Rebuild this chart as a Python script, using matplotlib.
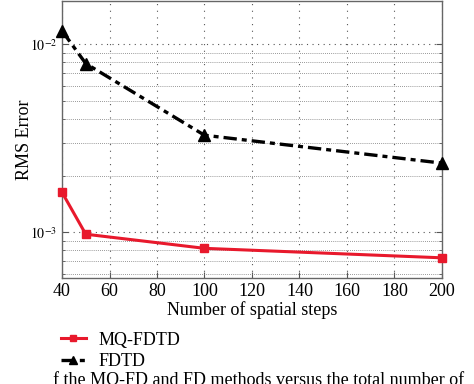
import matplotlib
matplotlib.use("Agg")
import matplotlib.pyplot as plt
from matplotlib.ticker import LogLocator, NullFormatter, FixedLocator

# data
steps = [40, 50, 100, 200]
mq_fdtd = [1.63e-3, 9.75e-4, 8.2e-4, 7.3e-4]
fdtd = [1.18e-2, 7.9e-3, 3.28e-3, 2.33e-3]
x_ticks = [40, 60, 80, 100, 120, 140, 160, 180, 200]

plt.rcParams['font.family'] = ['Liberation Serif', 'DejaVu Serif']
plt.rcParams['mathtext.fontset'] = 'stix'

fig = plt.figure(figsize=(4.74, 3.84), dpi=100)
ax = fig.add_axes([62 / 474, 1 - 278 / 384, 380 / 474, 277 / 384])

ax.plot(steps, mq_fdtd, color='#e8192c', lw=2.2, marker='s', ms=6,
        label='MQ-FDTD', zorder=3, clip_on=False)
ax.plot(steps, fdtd, color='black', lw=2.4, ls=(0, (4, 1.5, 1.5, 1.5)),
        marker='^', ms=8, label='FDTD', zorder=3, clip_on=False)

ax.set_yscale('log')
ax.set_xlim(40, 200)
ax.set_ylim(5.7e-4, 1.7e-2)
ax.set_xticks(x_ticks)
ax.yaxis.set_major_locator(FixedLocator([1e-3, 1e-2]))
ax.yaxis.set_minor_locator(LogLocator(base=10, subs=range(2, 10)))
ax.yaxis.set_minor_formatter(NullFormatter())
ax.set_yticklabels([r'$10^{-3}$', r'$10^{-2}$'])

ax.grid(True, which='major', axis='x', color='#555555', ls=(0, (1, 5)), lw=0.8)
ax.grid(True, which='major', axis='y', color='#555555', ls=(0, (1, 4)), lw=0.8)
ax.grid(True, which='minor', axis='y', color='#777777', ls=(0, (1, 1.5)), lw=0.6)

ax.tick_params(which='both', direction='in', right=True, top=False,
               labelsize=13, color='#555555')
ax.tick_params(axis='y', labelsize=10)
ax.tick_params(which='major', length=4)
ax.tick_params(which='minor', length=2)
for s in ax.spines.values():
    s.set_color('#666666')
    s.set_linewidth(1.0)

ax.set_xlabel('Number of spatial steps', fontsize=13, labelpad=1)
ax.set_ylabel('RMS Error', fontsize=13, labelpad=-2)

ax.legend(loc='upper left', bbox_to_anchor=(-0.045, -0.135), frameon=False,
          fontsize=13, handlelength=1.35, handletextpad=0.7, labelspacing=0.25,
          markerscale=0.8)

# caption of the source figure, cut off by the bottom edge
fig.text(53 / 474, 1 - 372 / 384, 'f the MQ-FD and FD methods versus the total number of',
         fontsize=13, va='top', ha='left')

fig.savefig('out.png', dpi=100)
